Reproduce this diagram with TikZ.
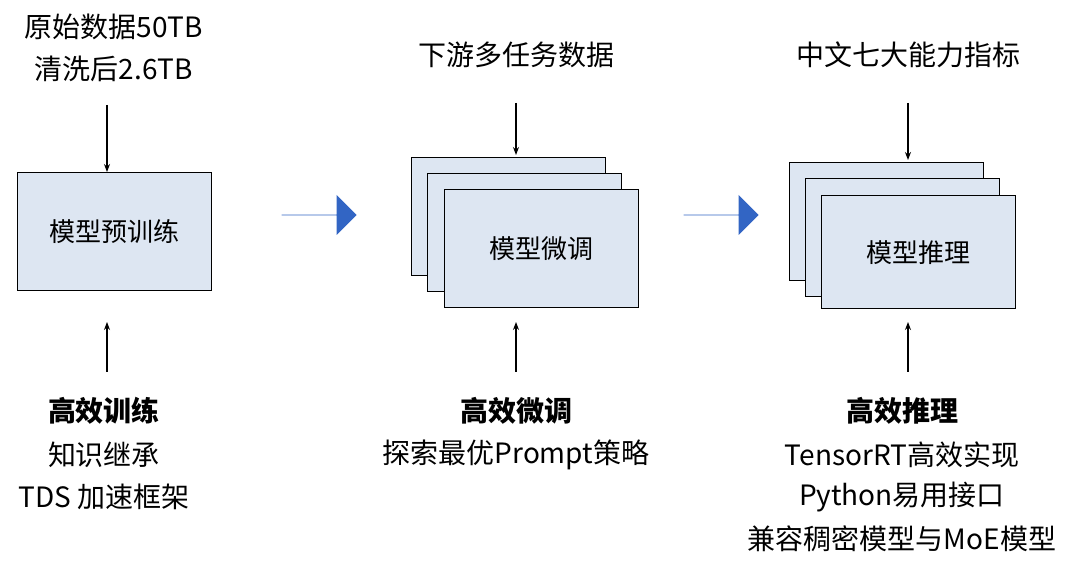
\documentclass[tikz,border=0pt]{standalone}
\usepackage{fontspec}
\setmainfont{Noto Sans CJK SC}
\usetikzlibrary{shapes.arrows,arrows.meta}
\definecolor{boxfill}{HTML}{DDE6F2}
\definecolor{arrblue}{HTML}{3265C4}
\begin{document}
\begin{tikzpicture}[x=1pt,y=-1pt,
 box/.style={draw=black,line width=1.3pt,fill=boxfill,minimum width=194pt,minimum height=118pt,font=\fontsize{26}{30}\selectfont,anchor=north west},
 lbl/.style={font=\fontsize{28}{32}\selectfont,inner sep=0pt},
 blbl/.style={lbl,font=\fontsize{28}{32}\selectfont\bfseries},
 con/.style={-{Stealth[length=8pt,width=6pt]},line width=1.2pt},
 big/.style={single arrow,fill=arrblue,draw=none,minimum height=75pt,minimum width=40pt,single arrow head extend=15pt,inner sep=0pt}]
\useasboundingbox (0,0) rectangle (1080,561);
% column 1
\node[lbl] (t1a) at (114,27) {原始数据50TB};
\node[lbl] (t1b) at (114,69) {清洗后2.6TB};
\node[box] (b1) at (17,172) {模型预训练};
\coordinate (c1t) at (107,105);
\draw[con] (c1t) -- (b1.north -| c1t);
\node[blbl] (h1) at (104,411) {高效训练};
\node[lbl] (h1a) at (104,455) {知识继承};
\node[lbl] (h1b) at (104,497) {TDS 加速框架};
\coordinate (c1b) at (107,372);
\draw[con] (c1b) -- (107,322);
% big arrows
\node[big] (a1) at (319,215) {};
\node[big] (a2) at (721,215) {};
% column 2
\node[lbl] (t2) at (516,55) {下游多任务数据};
\node[box] (b2c) at (411,157) {};
\node[box] (b2b) at (427,173) {};
\node[box] (b2) at (444,189) {模型微调};
\coordinate (c2t) at (516,103);
\draw[con] (c2t) -- (516,155);
\coordinate (c2b) at (516,372);
\draw[con] (c2b) -- (516,322);
\node[blbl] (h2) at (516,411) {高效微调};
\node[lbl] (h2a) at (516,455) {探索最优Prompt策略};
% column 3
\node[lbl] (t3) at (908,55) {中文七大能力指标};
\node[box] (b3c) at (789,162) {};
\node[box] (b3b) at (805,178) {};
\node[box,minimum height=113pt] (b3) at (821,195) {模型推理};
\coordinate (c3t) at (908,103);
\draw[con] (c3t) -- (908,160);
\coordinate (c3b) at (908,372);
\draw[con] (c3b) -- (908,322);
\node[blbl] (h3) at (902,411) {高效推理};
\node[lbl] (h3a) at (902,455) {TensorRT高效实现};
\node[lbl] (h3b) at (902,497) {Python易用接口};
\node[lbl] (h3c) at (902,539) {兼容稠密模型与MoE模型};
\end{tikzpicture}
\end{document}
